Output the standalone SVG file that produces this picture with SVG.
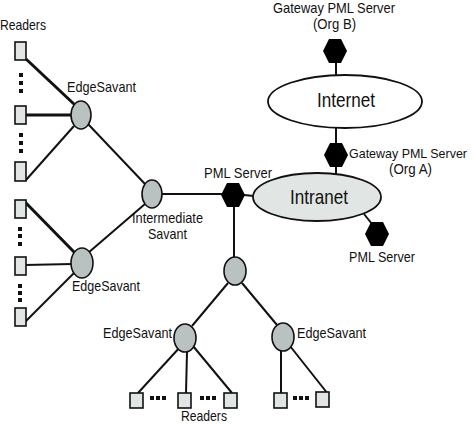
<svg xmlns="http://www.w3.org/2000/svg" width="474" height="424" viewBox="0 0 474 424">
<style>
.t{font-family:"Liberation Sans",Arial,sans-serif;font-size:15px;fill:#111}
.big{font-size:21px}
.sav{fill:#b9c2c0;stroke:#111;stroke-width:1.6}
.rd{fill:#e1e5e3;stroke:#111;stroke-width:1.6}
.hex{fill:#000}
.ln{stroke:#111;stroke-width:2;fill:none}
.th{stroke-width:3}
.dot{fill:#111}
</style>
<defs>
<polygon id="hx" points="-12,0 -6,-12 6,-12 12,0 6,12 -6,12"/>
</defs>
<rect width="474" height="424" fill="#fff"/>
<g id="connectors">
<line class="ln th" x1="26" y1="59" x2="75" y2="105"/>
<line class="ln th" x1="26" y1="115" x2="71" y2="115"/>
<line class="ln" x1="26" y1="180" x2="74" y2="126"/>
<line class="ln th" x1="25" y1="202" x2="75" y2="253"/>
<line class="ln" x1="25" y1="265" x2="72" y2="264"/>
<line class="ln" x1="25" y1="322" x2="75" y2="272"/>
<line class="ln" x1="88" y1="124" x2="145" y2="184"/>
<line class="ln" x1="88" y1="253" x2="145" y2="204"/>
<line class="ln" x1="162" y1="194" x2="222" y2="194"/>
<line class="ln" x1="244" y1="195" x2="254" y2="196"/>
<line class="ln" x1="234" y1="206" x2="234" y2="258"/>
<line class="ln" x1="228" y1="283" x2="192" y2="326"/>
<line class="ln" x1="242" y1="283" x2="277" y2="325"/>
<line class="ln" x1="181" y1="346" x2="138" y2="393"/>
<line class="ln" x1="187" y1="352" x2="186" y2="393"/>
<line class="ln" x1="193" y1="346" x2="232" y2="393"/>
<line class="ln" x1="281" y1="351" x2="281" y2="393"/>
<line class="ln" x1="290" y1="346" x2="328" y2="394"/>
<line class="ln" x1="336" y1="62" x2="336" y2="75"/>
<line class="ln" x1="336" y1="128" x2="336" y2="145"/>
<line class="ln" x1="336" y1="166" x2="336" y2="174"/>
<line class="ln" x1="364" y1="214" x2="372" y2="224"/>
</g>
<g id="readers-top-left">
<text class="t" x="0" y="30" textLength="46" lengthAdjust="spacingAndGlyphs">Readers</text>
<rect class="rd" x="15" y="42" width="11" height="18"/>
<rect class="rd" x="15" y="106" width="11" height="18"/>
<rect class="rd" x="15" y="162" width="11" height="19"/>
<rect class="dot" x="19" y="73" width="4" height="4"/>
<rect class="dot" x="19" y="81" width="4" height="4"/>
<rect class="dot" x="19" y="89" width="4" height="4"/>
<rect class="dot" x="19" y="133" width="4" height="4"/>
<rect class="dot" x="19" y="141" width="4" height="4"/>
<rect class="dot" x="19" y="149" width="4" height="4"/>
</g>
<g id="readers-bottom-left">
<rect class="rd" x="15" y="200" width="11" height="18"/>
<rect class="rd" x="15" y="257" width="11" height="18"/>
<rect class="rd" x="15" y="308" width="11" height="18"/>
<rect class="dot" x="18" y="227" width="4" height="4"/>
<rect class="dot" x="18" y="234" width="4" height="4"/>
<rect class="dot" x="18" y="242" width="4" height="4"/>
<rect class="dot" x="18" y="284" width="4" height="4"/>
<rect class="dot" x="18" y="291" width="4" height="4"/>
<rect class="dot" x="18" y="298" width="4" height="4"/>
</g>
<g id="edgesavant-1">
<ellipse class="sav" cx="81" cy="115" rx="10" ry="14"/>
<text class="t" x="67" y="92" textLength="69" lengthAdjust="spacingAndGlyphs">EdgeSavant</text>
</g>
<g id="edgesavant-2">
<ellipse class="sav" cx="82" cy="263" rx="11" ry="15"/>
<text class="t" x="72" y="291" textLength="68" lengthAdjust="spacingAndGlyphs">EdgeSavant</text>
</g>
<g id="intermediate-savant">
<ellipse class="sav" cx="152" cy="194" rx="10" ry="14"/>
<text class="t" x="132" y="223" textLength="71" lengthAdjust="spacingAndGlyphs">Intermediate</text>
<text class="t" x="148" y="239" textLength="39" lengthAdjust="spacingAndGlyphs">Savant</text>
</g>
<g id="pml-server-left">
<use href="#hx" class="hex" x="233" y="195"/>
<text class="t" x="204" y="178" textLength="68" lengthAdjust="spacingAndGlyphs">PML Server</text>
</g>
<g id="node-mid">
<ellipse class="sav" cx="235" cy="271" rx="11" ry="14"/>
</g>
<g id="edgesavant-3">
<ellipse class="sav" cx="185" cy="338" rx="11" ry="14"/>
<text class="t" x="103" y="338" textLength="69" lengthAdjust="spacingAndGlyphs">EdgeSavant</text>
</g>
<g id="edgesavant-4">
<ellipse class="sav" cx="283" cy="337" rx="11" ry="14"/>
<text class="t" x="297" y="338" textLength="69" lengthAdjust="spacingAndGlyphs">EdgeSavant</text>
</g>
<g id="readers-bottom">
<rect class="rd" x="130" y="393" width="13" height="15"/>
<rect class="rd" x="178" y="393" width="13" height="15"/>
<rect class="rd" x="224" y="393" width="13" height="15"/>
<rect class="rd" x="274" y="393" width="13" height="15"/>
<rect class="rd" x="316" y="392" width="13" height="15"/>
<rect class="dot" x="150" y="396" width="4" height="4"/>
<rect class="dot" x="156" y="396" width="4" height="4"/>
<rect class="dot" x="162" y="396" width="4" height="4"/>
<rect class="dot" x="200" y="396" width="4" height="4"/>
<rect class="dot" x="206" y="396" width="4" height="4"/>
<rect class="dot" x="212" y="396" width="4" height="4"/>
<rect class="dot" x="293" y="396" width="4" height="4"/>
<rect class="dot" x="299" y="396" width="4" height="4"/>
<rect class="dot" x="305" y="396" width="4" height="4"/>
<text class="t" x="181" y="421" textLength="46" lengthAdjust="spacingAndGlyphs">Readers</text>
</g>
<g id="gateway-b">
<use href="#hx" class="hex" x="335" y="51"/>
<text class="t" x="273" y="13" textLength="122" lengthAdjust="spacingAndGlyphs">Gateway PML Server</text>
<text class="t" x="313" y="29" textLength="43" lengthAdjust="spacingAndGlyphs">(Org B)</text>
</g>
<g id="internet">
<ellipse cx="345" cy="101.5" rx="77" ry="26.5" fill="#fff" stroke="#111" stroke-width="1.8"/>
<text class="t big" x="317" y="107" textLength="58" lengthAdjust="spacingAndGlyphs">Internet</text>
</g>
<g id="gateway-a">
<use href="#hx" class="hex" x="336" y="155"/>
<text class="t" x="349" y="158" style="font-size:13px" textLength="118" lengthAdjust="spacingAndGlyphs">Gateway PML Server</text>
<text class="t" x="389" y="174" textLength="43" lengthAdjust="spacingAndGlyphs">(Org A)</text>
</g>
<g id="intranet">
<ellipse cx="317" cy="197" rx="64" ry="24" fill="#e1e5e3" stroke="#111" stroke-width="1.8"/>
<text class="t big" x="290" y="204" textLength="58" lengthAdjust="spacingAndGlyphs">Intranet</text>
</g>
<g id="pml-server-right">
<use href="#hx" class="hex" x="377" y="234"/>
<text class="t" x="349" y="262" textLength="66" lengthAdjust="spacingAndGlyphs">PML Server</text>
</g>
</svg>
